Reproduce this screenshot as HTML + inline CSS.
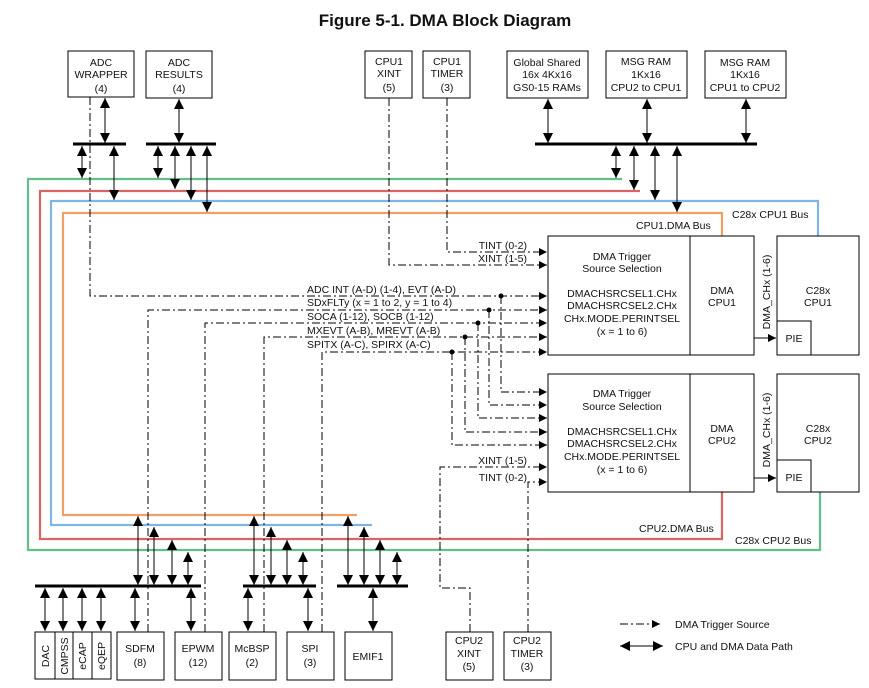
<!DOCTYPE html>
<html><head><meta charset="utf-8"><style>
html,body{margin:0;padding:0;background:#fff;}
svg{display:block;}
text{font-family:"Liberation Sans",Arial,sans-serif;font-size:10.5px;fill:#111;}
.c{text-anchor:middle;}
.r{text-anchor:end;}
</style></head><body>
<svg width="869" height="688" viewBox="0 0 869 688" xmlns="http://www.w3.org/2000/svg">
<defs>
<marker id="a" markerUnits="userSpaceOnUse" markerWidth="12" markerHeight="12" refX="10" refY="5" orient="auto-start-reverse"><path d="M0,0 L10,5 L0,10 z" fill="#000"/></marker>
<marker id="t" markerUnits="userSpaceOnUse" markerWidth="10" markerHeight="10" refX="8" refY="4" orient="auto"><path d="M0,0 L8,4 L0,8 z" fill="#000"/></marker>
</defs>
<text x="445" y="26" class="c" style="font-size:17px;font-weight:bold">Figure 5-1. DMA Block Diagram</text>

<!-- colored buses -->
<g fill="none" stroke-width="2.2">
<polyline stroke="#62bf8c" points="622,179 28,179 28,550 820,550 820,492"/>
<polyline stroke="#d96464" points="640,191 40,191 40,539 722,539 722,492"/>
<polyline stroke="#80b4e2" points="372,525 51,525 51,201 818,201 818,236"/>
<polyline stroke="#f0a064" points="357,515 63,515 63,213 722,213 722,236"/>
</g>
<text x="732" y="218">C28x CPU1 Bus</text>
<text x="636" y="229">CPU1.DMA Bus</text>
<text x="639" y="532">CPU2.DMA Bus</text>
<text x="735" y="544">C28x CPU2 Bus</text>

<!-- boxes -->
<g fill="#fff" stroke="#000" stroke-width="1">
<rect x="68" y="51" width="66" height="46"/>
<rect x="146" y="51" width="66" height="47"/>
<rect x="365" y="51" width="47" height="47"/>
<rect x="423" y="51" width="47" height="47"/>
<rect x="507" y="51" width="81" height="47"/>
<rect x="606" y="51" width="81" height="47"/>
<rect x="705" y="51" width="81" height="47"/>
<rect x="548" y="236" width="206" height="119"/>
<line x1="690" y1="236" x2="690" y2="355"/>
<rect x="777" y="236" width="82" height="119"/>
<rect x="777" y="321" width="34" height="34"/>
<rect x="548" y="374" width="206" height="118"/>
<line x1="690" y1="374" x2="690" y2="492"/>
<rect x="777" y="374" width="82" height="118"/>
<rect x="777" y="460" width="34" height="32"/>
<rect x="35" y="632" width="76" height="47"/>
<line x1="55" y1="632" x2="55" y2="679"/><line x1="73" y1="632" x2="73" y2="679"/><line x1="92" y1="632" x2="92" y2="679"/>
<rect x="117" y="632" width="47" height="48"/>
<rect x="175" y="632" width="47" height="48"/>
<rect x="229" y="632" width="47" height="48"/>
<rect x="287" y="632" width="47" height="48"/>
<rect x="345" y="632" width="47" height="48"/>
<rect x="446" y="632" width="47" height="48"/>
<rect x="504" y="632" width="47" height="48"/>
</g>

<!-- box text -->
<text x="101" y="66" class="c">ADC</text><text x="101" y="78" class="c">WRAPPER</text><text x="101" y="92" class="c">(4)</text>
<text x="179" y="66" class="c">ADC</text><text x="179" y="78" class="c">RESULTS</text><text x="179" y="92" class="c">(4)</text>
<text x="389" y="65" class="c">CPU1</text><text x="389" y="77" class="c">XINT</text><text x="389" y="91" class="c">(5)</text>
<text x="447" y="65" class="c">CPU1</text><text x="447" y="77" class="c">TIMER</text><text x="447" y="91" class="c">(3)</text>
<text x="547" y="66" class="c">Global Shared</text><text x="547" y="78" class="c">16x 4Kx16</text><text x="547" y="91" class="c">GS0-15 RAMs</text>
<text x="646" y="65" class="c">MSG RAM</text><text x="646" y="78" class="c">1Kx16</text><text x="646" y="91" class="c">CPU2 to CPU1</text>
<text x="745" y="66" class="c">MSG RAM</text><text x="745" y="78" class="c">1Kx16</text><text x="745" y="91" class="c">CPU1 to CPU2</text>

<text x="622" y="260" class="c">DMA Trigger</text><text x="622" y="272" class="c">Source Selection</text>
<text x="622" y="297" class="c">DMACHSRCSEL1.CHx</text><text x="622" y="309" class="c">DMACHSRCSEL2.CHx</text><text x="622" y="322" class="c">CHx.MODE.PERINTSEL</text><text x="622" y="335" class="c">(x = 1 to 6)</text>
<text x="722" y="294" class="c">DMA</text><text x="722" y="306" class="c">CPU1</text>
<text x="818" y="294" class="c">C28x</text><text x="818" y="306" class="c">CPU1</text>
<text x="794" y="342" class="c">PIE</text>
<text x="622" y="397" class="c">DMA Trigger</text><text x="622" y="410" class="c">Source Selection</text>
<text x="622" y="435" class="c">DMACHSRCSEL1.CHx</text><text x="622" y="447" class="c">DMACHSRCSEL2.CHx</text><text x="622" y="460" class="c">CHx.MODE.PERINTSEL</text><text x="622" y="473" class="c">(x = 1 to 6)</text>
<text x="722" y="432" class="c">DMA</text><text x="722" y="444" class="c">CPU2</text>
<text x="818" y="432" class="c">C28x</text><text x="818" y="444" class="c">CPU2</text>
<text x="794" y="481" class="c">PIE</text>
<text transform="translate(770,292) rotate(-90)" class="c">DMA_CHx (1-6)</text>
<text transform="translate(770,430) rotate(-90)" class="c">DMA_CHx (1-6)</text>

<text transform="translate(49,656) rotate(-90)" class="c">DAC</text>
<text transform="translate(68,656) rotate(-90)" class="c">CMPSS</text>
<text transform="translate(86,656) rotate(-90)" class="c">eCAP</text>
<text transform="translate(105,656) rotate(-90)" class="c">eQEP</text>
<text x="140" y="652" class="c">SDFM</text><text x="140" y="666" class="c">(8)</text>
<text x="198" y="652" class="c">EPWM</text><text x="198" y="666" class="c">(12)</text>
<text x="252" y="652" class="c">McBSP</text><text x="252" y="666" class="c">(2)</text>
<text x="310" y="652" class="c">SPI</text><text x="310" y="666" class="c">(3)</text>
<text x="368" y="660" class="c">EMIF1</text>
<text x="469" y="644" class="c">CPU2</text><text x="469" y="657" class="c">XINT</text><text x="469" y="670" class="c">(5)</text>
<text x="527" y="644" class="c">CPU2</text><text x="527" y="657" class="c">TIMER</text><text x="527" y="670" class="c">(3)</text>

<!-- black buses -->
<g stroke="#000" stroke-width="3">
<line x1="73" y1="144" x2="126" y2="144"/>
<line x1="146" y1="144" x2="216" y2="144"/>
<line x1="535" y1="144" x2="757" y2="144"/>
<line x1="35" y1="586" x2="201" y2="586"/>
<line x1="243" y1="586" x2="316" y2="586"/>
<line x1="337" y1="586" x2="408" y2="586"/>
</g>

<!-- double arrows -->
<g stroke="#000" stroke-width="1" marker-start="url(#a)" marker-end="url(#a)">
<line x1="105" y1="98" x2="105" y2="143"/>
<line x1="179" y1="99" x2="179" y2="143"/>
<line x1="548" y1="99" x2="548" y2="143"/>
<line x1="647" y1="99" x2="647" y2="143"/>
<line x1="746" y1="99" x2="746" y2="143"/>
<line x1="82" y1="146" x2="82" y2="178"/>
<line x1="114" y1="146" x2="114" y2="200"/>
<line x1="158" y1="146" x2="158" y2="178"/>
<line x1="175" y1="146" x2="175" y2="189"/>
<line x1="191" y1="146" x2="191" y2="200"/>
<line x1="207" y1="146" x2="207" y2="212"/>
<line x1="616" y1="146" x2="616" y2="178"/>
<line x1="634" y1="146" x2="634" y2="190"/>
<line x1="655" y1="146" x2="655" y2="200"/>
<line x1="677" y1="146" x2="677" y2="212"/>
<line x1="138" y1="516" x2="138" y2="585"/>
<line x1="154" y1="527" x2="154" y2="585"/>
<line x1="172" y1="540" x2="172" y2="585"/>
<line x1="188" y1="552" x2="188" y2="585"/>
<line x1="254" y1="516" x2="254" y2="585"/>
<line x1="271" y1="527" x2="271" y2="585"/>
<line x1="287" y1="540" x2="287" y2="585"/>
<line x1="303" y1="552" x2="303" y2="585"/>
<line x1="348" y1="516" x2="348" y2="585"/>
<line x1="364" y1="527" x2="364" y2="585"/>
<line x1="380" y1="540" x2="380" y2="585"/>
<line x1="397" y1="552" x2="397" y2="585"/>
<line x1="45" y1="588" x2="45" y2="631"/>
<line x1="63" y1="588" x2="63" y2="631"/>
<line x1="82" y1="588" x2="82" y2="631"/>
<line x1="101" y1="588" x2="101" y2="631"/>
<line x1="135" y1="588" x2="135" y2="631"/>
<line x1="191" y1="588" x2="191" y2="631"/>
<line x1="248" y1="588" x2="248" y2="631"/>
<line x1="308" y1="588" x2="308" y2="631"/>
<line x1="373" y1="588" x2="373" y2="631"/>
<line x1="620" y1="646" x2="663" y2="646"/>
</g>

<!-- trigger lines -->
<g fill="none" stroke="#000" stroke-width="1" stroke-dasharray="8,3,2,3">
<polyline points="90,97 90,296 547,296" marker-end="url(#t)"/>
<polyline points="148,632 148,310 547,310" marker-end="url(#t)"/>
<polyline points="205,632 205,323 547,323" marker-end="url(#t)"/>
<polyline points="264,632 264,337 547,337" marker-end="url(#t)"/>
<polyline points="322,632 322,352 547,352" marker-end="url(#t)"/>
<polyline points="501,296 501,392 547,392" marker-end="url(#t)"/>
<polyline points="489,310 489,405 547,405" marker-end="url(#t)"/>
<polyline points="478,323 478,418 547,418" marker-end="url(#t)"/>
<polyline points="465,337 465,432 547,432" marker-end="url(#t)"/>
<polyline points="452,352 452,445 547,445" marker-end="url(#t)"/>
<polyline points="389,98 389,265 547,265" marker-end="url(#t)"/>
<polyline points="447,98 447,252 547,252" marker-end="url(#t)"/>
<polyline points="470,632 470,588 440,588 440,467 547,467" marker-end="url(#t)"/>
<polyline points="528,632 528,482 547,482" marker-end="url(#t)"/>
<line x1="620" y1="624" x2="660" y2="624" marker-end="url(#t)"/>
</g>
<g stroke="#000" stroke-width="1" marker-end="url(#t)">
<line x1="754" y1="338" x2="776" y2="338"/>
<line x1="754" y1="478" x2="776" y2="478"/>
</g>
<g fill="#000">
<circle cx="501" cy="296" r="2.5"/><circle cx="489" cy="310" r="2.5"/><circle cx="478" cy="323" r="2.5"/><circle cx="465" cy="337" r="2.5"/><circle cx="452" cy="352" r="2.5"/>
</g>
<text x="527" y="249" class="r">TINT (0-2)</text>
<text x="527" y="262" class="r">XINT (1-5)</text>
<text x="307" y="293">ADC INT (A-D) (1-4), EVT (A-D)</text>
<text x="307" y="306">SDxFLTy (x = 1 to 2, y = 1 to 4)</text>
<text x="307" y="320">SOCA (1-12), SOCB (1-12)</text>
<text x="307" y="334">MXEVT (A-B), MREVT (A-B)</text>
<text x="307" y="348">SPITX (A-C), SPIRX (A-C)</text>
<text x="527" y="464" class="r">XINT (1-5)</text>
<text x="527" y="481" class="r">TINT (0-2)</text>
<text x="675" y="628">DMA Trigger Source</text>
<text x="675" y="650">CPU and  DMA Data Path</text>
</svg>
</body></html>
